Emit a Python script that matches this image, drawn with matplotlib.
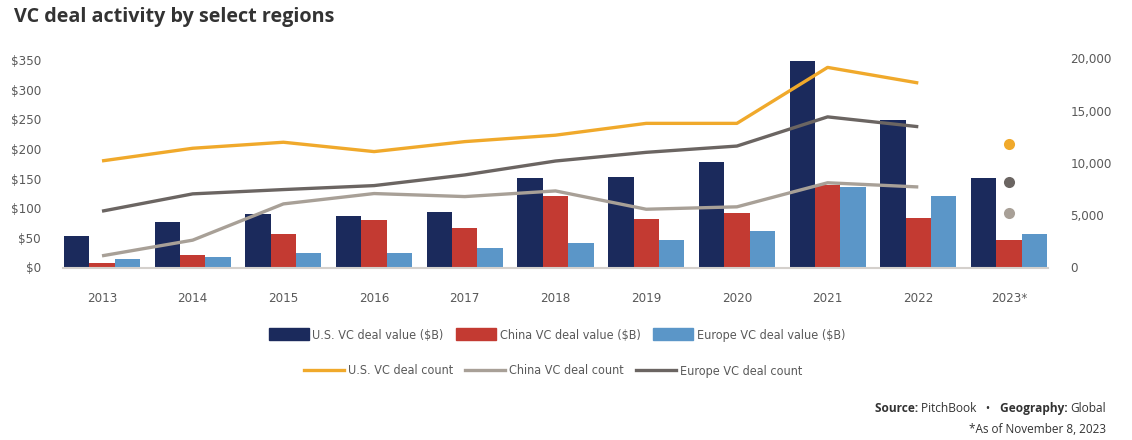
import matplotlib
matplotlib.use("Agg")
import matplotlib.pyplot as plt
from matplotlib.lines import Line2D
from matplotlib.patches import Patch
import numpy as np

# %% Data
years = ["2013", "2014", "2015", "2016", "2017", "2018", "2019", "2020", "2021", "2022", "2023*"]

us_value     = [53, 77, 91, 87, 93, 151, 152, 178, 349, 248, 151]
china_value  = [7, 21, 57, 80, 67, 121, 82, 92, 139, 84, 47]
europe_value = [15, 18, 24, 24, 33, 42, 47, 62, 135, 120, 57]

us_count     = [10190, 11400, 11975, 11080, 12035, 12650, 13780, 13780, 19130, 17640, 11780]
china_count  = [1115, 2615, 6080, 7070, 6780, 7320, 5570, 5800, 8100, 7700, 5195]
europe_count = [5385, 7040, 7450, 7830, 8850, 10180, 11010, 11610, 14400, 13460, 8140]

value_ticks = [0, 50, 100, 150, 200, 250, 300, 350]
count_ticks = [0, 5000, 10000, 15000, 20000]

# %% Style
c_us, c_china, c_europe = "#1b2a5c", "#c33a32", "#5b96c8"
l_us, l_china, l_europe = "#f0a92b", "#a8a097", "#6b6562"
narrow = {"family": "DejaVu Sans", "stretch": "condensed", "size": 9.0}
tick_font = {"family": "DejaVu Sans", "stretch": "condensed", "size": 9.5}
txt_col = "#595959"

fig = plt.figure(figsize=(11.32, 4.4), dpi=100)
ax = fig.add_axes([63 / 1132, 1 - 267.5 / 440, (1048 - 63) / 1132, (267.5 - 58.3) / 440])
ax2 = ax.twinx()

x = np.arange(len(years))
w = 0.28
ax.bar(x - w, us_value, w, color=c_us, zorder=2)
ax.bar(x, china_value, w, color=c_china, zorder=2)
ax.bar(x + w, europe_value, w, color=c_europe, zorder=2)

# lines up to 2022, 2023 as single dots
for vals, col in [(us_count, l_us), (china_count, l_china), (europe_count, l_europe)]:
    ax2.plot(x[:-1], vals[:-1], color=col, lw=2.4, solid_capstyle="butt")
    ax2.plot(x[-1], vals[-1], "o", color=col, ms=8, mec="none")

ax.set_xlim(-0.43, len(years) - 1 + 0.43)
ax.set_ylim(0, 350 * 209.2 / 207.5)
ax2.set_ylim(0, 20000)

ax.set_xticks(x)
ax.set_xticklabels(years)
ax.set_yticks(value_ticks)
ax.set_yticklabels([f"${v}" for v in value_ticks])
ax2.set_yticks(count_ticks)
ax2.set_yticklabels([f"{v:,}" for v in count_ticks])

for a in (ax, ax2):
    for s in a.spines.values():
        s.set_visible(False)
    a.tick_params(length=0, colors=txt_col)
    for lab in a.get_xticklabels() + a.get_yticklabels():
        lab.set_fontproperties(tick_font)
ax.spines["bottom"].set_visible(True)
ax.spines["bottom"].set_color("#d4d0cc")
ax.spines["bottom"].set_linewidth(1.5)
ax.tick_params(axis="x", pad=18)
ax.tick_params(axis="y", pad=16)
ax2.tick_params(axis="y", pad=16)

# %% Title
fig.text(14 / 1132, 1 - 17 / 440, "VC deal activity by select regions", family=["Open Sans", "DejaVu Sans"],
         fontsize=14.2, weight="bold", color="#333333", va="center", ha="left")

# %% Legends
bar_handles = [Patch(color=c_us), Patch(color=c_china), Patch(color=c_europe)]
bar_labels = ["U.S. VC deal value ($B)", "China VC deal value ($B)", "Europe VC deal value ($B)"]
leg1 = fig.legend(bar_handles, bar_labels, loc="center", bbox_to_anchor=(557 / 1132, 1 - 335 / 440), ncol=3,
                  frameon=False, prop=narrow, handlelength=3.2, handleheight=1.1,
                  columnspacing=1.0, handletextpad=0.3, labelcolor=txt_col)
line_handles = [Line2D([], [], color=c, lw=2.4) for c in (l_us, l_china, l_europe)]
line_labels = ["U.S. VC deal count", "China VC deal count", "Europe VC deal count"]
leg2 = fig.legend(line_handles, line_labels, loc="center", bbox_to_anchor=(553 / 1132, 1 - 371 / 440), ncol=3,
                  frameon=False, prop=narrow, handlelength=3.2,
                  columnspacing=1.0, handletextpad=0.3, labelcolor=txt_col)

# %% Source note, bold and regular pieces placed right to left
renderer = fig.canvas.get_renderer()
pieces = [("Source: ", "bold"), ("PitchBook   \u2022   ", "normal"), ("Geography: ", "bold"), ("Global", "normal")]
xr = 1106 / 1132
for text, weight in reversed(pieces):
    t = fig.text(xr, 1 - 408 / 440, text, ha="right", va="center", fontsize=8.6, weight=weight,
                 family=["Open Sans", "DejaVu Sans"], color="#333333")
    bb = t.get_window_extent(renderer)
    xr -= bb.width / fig.bbox.width
fig.text(1106 / 1132, 1 - 429 / 440, "*As of November 8, 2023", ha="right", va="center", fontsize=8.5,
         family=["Open Sans", "DejaVu Sans"], color="#333333")

fig.savefig("out.png", dpi=100)
